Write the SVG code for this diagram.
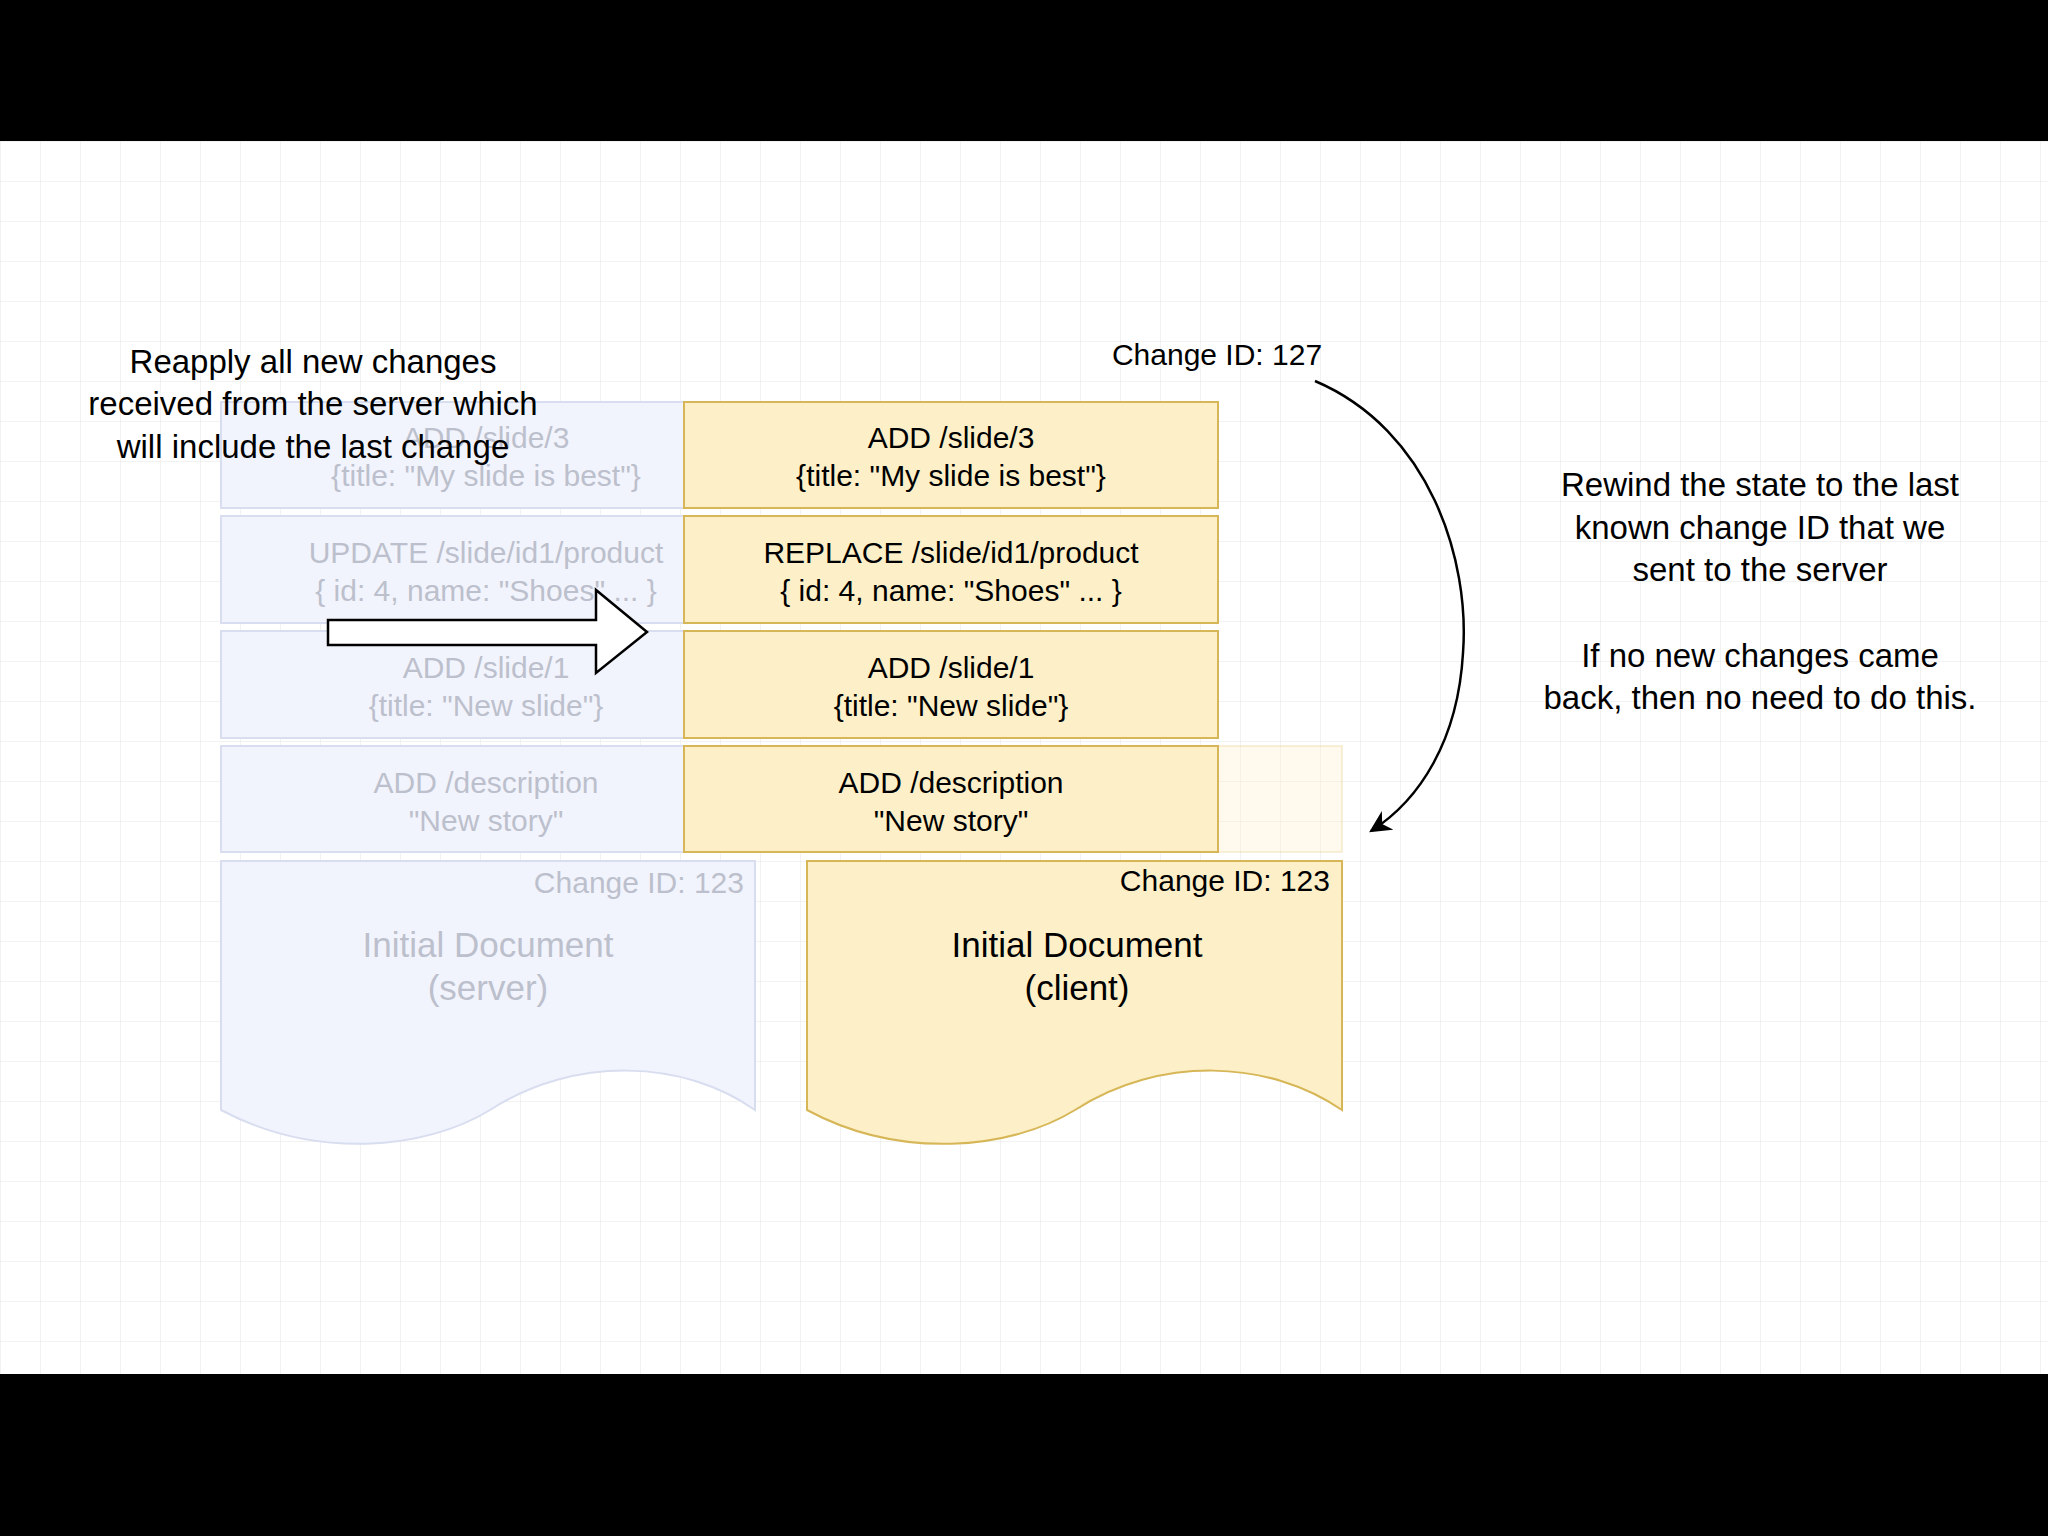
<svg xmlns="http://www.w3.org/2000/svg" width="2048" height="1536" viewBox="0 0 2048 1536">
<defs>
<pattern id="g" width="40" height="40" patternUnits="userSpaceOnUse" x="0" y="141"><path d="M40 0H0V40" fill="none" stroke="#e6e6e6" stroke-width="1"/></pattern>
<marker id="ah" viewBox="0 0 10 10" refX="9" refY="5" markerWidth="22" markerHeight="22" orient="auto" markerUnits="userSpaceOnUse"><path d="M0 0L10 5L0 10L3 5Z" fill="#000"/></marker>
<style>
text{font-family:"Liberation Sans",Arial,sans-serif;text-anchor:middle}
.y{fill:#fdf0c8;stroke:#d6b656;stroke-width:2}
.s{fill:#f2f4fd;stroke:#d8ddef;stroke-width:2}
.t{font-size:30px;fill:#000}
.f{font-size:30px;fill:#bcc0cc}
.b{font-size:33px;fill:#000}
</style>
</defs>
<rect width="2048" height="1536" fill="#000"/>
<rect y="141" width="2048" height="1233" fill="#fff"/>
<rect y="141" width="2048" height="1233" fill="url(#g)"/>

<g id="server-doc"><path class="s" d="M221 861H755V1110C685 1060 575 1055 490 1110C425 1150 315 1160 221 1110Z"/>
<text class="f" x="744" y="893" style="text-anchor:end">Change ID: 123</text>
<text class="f" x="488" y="957" style="font-size:35px">Initial Document</text>
<text class="f" x="488" y="1000" style="font-size:35px">(server)</text></g>
<g id="s1"><rect class="s" x="221" y="402" width="463" height="106"/><text class="f" x="486" y="448">ADD /slide/3</text><text class="f" x="486" y="486">{title: "My slide is best"}</text></g>
<g id="s2"><rect class="s" x="221" y="516" width="463" height="107"/><text class="f" x="486" y="563">UPDATE /slide/id1/product</text><text class="f" x="486" y="601">{ id: 4, name: "Shoes" ... }</text></g>
<g id="s3"><rect class="s" x="221" y="631" width="463" height="107"/><text class="f" x="486" y="678">ADD /slide/1</text><text class="f" x="486" y="716">{title: "New slide"}</text></g>
<g id="s4"><rect class="s" x="221" y="746" width="463" height="106"/><text class="f" x="486" y="793">ADD /description</text><text class="f" x="486" y="831">"New story"</text></g>

<g id="label-reapply"><text class="b" x="313" y="373">Reapply all new changes</text><text class="b" x="313" y="415">received from the server which</text><text class="b" x="313" y="458">will include the last change</text></g>

<g id="ext"><rect x="1218" y="746" width="124" height="106" fill="#fff2cc" fill-opacity="0.35" stroke="#d6b656" stroke-opacity="0.2" stroke-width="2"/></g>
<g id="client-doc"><path class="y" d="M807 861H1342V1110C1270 1060 1160 1055 1075 1110C1010 1150 900 1160 807 1110Z"/>
<text class="t" x="1330" y="891" style="text-anchor:end">Change ID: 123</text>
<text class="t" x="1077" y="957" style="font-size:35px">Initial Document</text>
<text class="t" x="1077" y="1000" style="font-size:35px">(client)</text></g>
<g id="c1"><rect class="y" x="684" y="402" width="534" height="106"/><text class="t" x="951" y="448">ADD /slide/3</text><text class="t" x="951" y="486">{title: "My slide is best"}</text></g>
<g id="c2"><rect class="y" x="684" y="516" width="534" height="107"/><text class="t" x="951" y="563">REPLACE /slide/id1/product</text><text class="t" x="951" y="601">{ id: 4, name: "Shoes" ... }</text></g>
<g id="c3"><rect class="y" x="684" y="631" width="534" height="107"/><text class="t" x="951" y="678">ADD /slide/1</text><text class="t" x="951" y="716">{title: "New slide"}</text></g>
<g id="c4"><rect class="y" x="684" y="746" width="534" height="106"/><text class="t" x="951" y="793">ADD /description</text><text class="t" x="951" y="831">"New story"</text></g>

<g id="label-127"><text class="t" x="1217" y="365">Change ID: 127</text></g>
<g id="label-rewind"><text class="b" x="1760" y="496">Rewind the state to the last</text><text class="b" x="1760" y="539">known change ID that we</text><text class="b" x="1760" y="581">sent to the server</text><text class="b" x="1760" y="667">If no new changes came</text><text class="b" x="1760" y="709">back, then no need to do this.</text></g>

<g id="connectors">
<path d="M328 620H596V590L647 632L596 673V645H328Z" fill="#fff" stroke="#000" stroke-width="2.5"/>
<path d="M1315 381C1430 430 1470 560 1463 653C1458 740 1420 800 1371 831" fill="none" stroke="#000" stroke-width="2.5" marker-end="url(#ah)"/>
</g>
</svg>
